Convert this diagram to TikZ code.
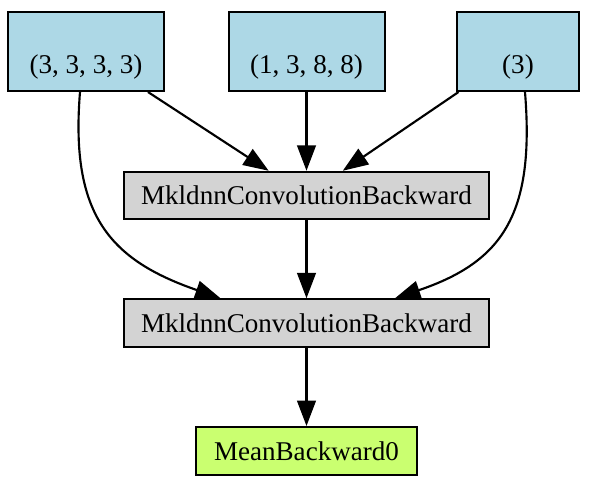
\documentclass[tikz,border=0pt]{standalone}
\usepackage{fontspec}
\setmainfont{Liberation Serif}
\usetikzlibrary{arrows.meta,calc,positioning}
\definecolor{LeafBlue}{RGB}{173,216,230}
\definecolor{OpGrey}{RGB}{211,211,211}
\definecolor{RootGreen}{RGB}{202,255,112}

\begin{document}
\begin{tikzpicture}[x=0.75pt,y=-0.75pt,
  box/.style={draw,line width=1.5pt,inner sep=0pt,align=center,
    font=\fontsize{20.3}{23.5}\selectfont},
  leaf/.style={box,fill=LeafBlue,minimum height=59.25pt},
  op/.style={box,fill=OpGrey,minimum width=273.75pt,minimum height=35.6pt},
  edge/.style={line width=1.6pt,-{Triangle[length=19pt,width=14pt]}}]
\useasboundingbox (0,0) rectangle (590,498);
\node[leaf,minimum width=117pt] (wt) at (86,51.5) {\strut\\\strut(3, 3, 3, 3)};
\node[leaf,minimum width=117pt] (inp) at (306.5,51.5) {\strut\\\strut(1, 3, 8, 8)};
\node[leaf,minimum width=91.5pt] (bias) at (518,51.5) {\strut\\\strut(3)};
\node[op] (conv1) at (306.5,195.5) {MkldnnConvolutionBackward};
\node[op] (conv2) at (306.5,323) {MkldnnConvolutionBackward};
\node[box,fill=RootGreen,minimum width=165.75pt,minimum height=36pt] (mean) at (306.5,451) {MeanBackward0};
\draw[edge] (wt) -- (conv1);
\draw[edge] (inp) -- (conv1);
\draw[edge] (bias) -- (conv1);
\draw[edge] ($(wt.south)+(-6,0)$) .. controls (70,215) and (110,260) .. ($(conv2.north)+(-86,0)$);
\draw[edge] ($(bias.south)+(7,0)$) .. controls (535,215) and (502,262) .. ($(conv2.north)+(88.5,0)$);
\draw[edge] (conv1) -- (conv2);
\draw[edge] (conv2) -- (mean);
\end{tikzpicture}
\end{document}
